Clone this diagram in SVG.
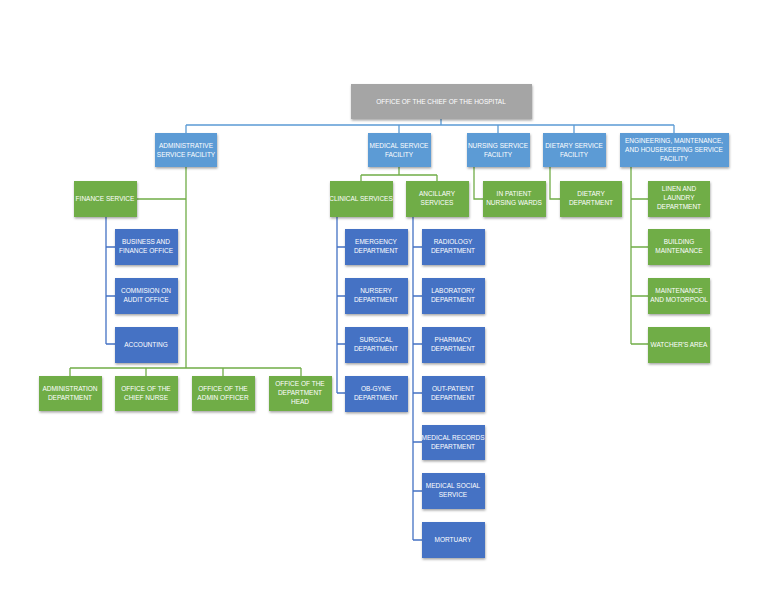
<svg xmlns="http://www.w3.org/2000/svg" width="768" height="594" viewBox="0 0 768 594">
<defs>
<filter id="sh" x="-10%" y="-10%" width="130%" height="140%"><feDropShadow dx="0.5" dy="1.5" stdDeviation="0.8" flood-opacity="0.35"/></filter>
</defs>
<style>
rect{filter:url(#sh)}
.g rect{fill:#70ad47}.b rect{fill:#4472c4}.l rect{fill:#5b9bd5}.a rect{fill:#a5a5a5}
text{font-family:"Liberation Sans",Arial,sans-serif;font-size:6.5px;fill:#fff;text-anchor:middle}
.c1{stroke:#5b9bd5;fill:none;stroke-width:1.3}.c2{stroke:#70ad47;fill:none;stroke-width:1.3}.c3{stroke:#4472c4;fill:none;stroke-width:1.3}
</style>
<rect width="768" height="594" fill="#fff" style="filter:none"/>
<g id="connectors">
<path class="c1" d="M441 119V125M186 125H674M186 125V133M399 125V133M498 125V133M574 125V133M674 125V133"/>
<path class="c2" d="M186 167V368M137 199H186M70 368H301M70 368V376M146 368V376M223 368V376M301 368V376M399 167V175M361 175H437M361 175V181M437 175V181M474 167V199H483M550 167V199H560M631 167V344M631 199H648M631 247H648M631 296H648M631 344H648"/>
<path class="c3" d="M106 217V344M106 247H115M106 296H115M106 344H115M337 217V393M337 247H345M337 296H345M337 344H345M337 393H345M413 217V540M413 247H422M413 296H422M413 344H422M413 393H422M413 442H422M413 491H422M413 540H422"/>
</g>
<g id="chief" class="a"><rect x="351" y="84" width="181" height="35"/><text x="441" y="104">OFFICE OF THE CHIEF OF THE HOSPITAL</text></g>
<g id="admin" class="l"><rect x="155" y="133" width="62" height="34"/><text x="186" y="148">ADMINISTRATIVE</text><text x="186" y="157">SERVICE FACILITY</text></g>
<g id="medical" class="l"><rect x="368" y="133" width="63" height="34"/><text x="399" y="148">MEDICAL SERVICE</text><text x="399" y="157">FACILITY</text></g>
<g id="nursing" class="l"><rect x="467" y="133" width="63" height="34"/><text x="498" y="148">NURSING SERVICE</text><text x="498" y="157">FACILITY</text></g>
<g id="dietary" class="l"><rect x="543" y="133" width="63" height="34"/><text x="574" y="148">DIETARY SERVICE</text><text x="574" y="157">FACILITY</text></g>
<g id="engineering" class="l"><rect x="620" y="133" width="109" height="34"/><text x="674" y="143">ENGINEERING, MAINTENANCE,</text><text x="674" y="152">AND HOUSEKEEPING SERVICE</text><text x="674" y="161">FACILITY</text></g>
<g id="finance" class="g"><rect x="74" y="181" width="63" height="36"/><text x="105" y="201">FINANCE SERVICE</text></g>
<g id="clinical" class="g"><rect x="330" y="181" width="63" height="36"/><text x="361" y="201">CLINICAL SERVICES</text></g>
<g id="ancillary" class="g"><rect x="406" y="181" width="63" height="36"/><text x="437" y="196">ANCILLARY</text><text x="437" y="205">SERVICES</text></g>
<g id="inpatient" class="g"><rect x="483" y="181" width="63" height="36"/><text x="514" y="196">IN PATIENT</text><text x="514" y="205">NURSING WARDS</text></g>
<g id="dietarydept" class="g"><rect x="560" y="181" width="62" height="36"/><text x="591" y="196">DIETARY</text><text x="591" y="205">DEPARTMENT</text></g>
<g id="linen" class="g"><rect x="648" y="181" width="62" height="36"/><text x="679" y="191">LINEN AND</text><text x="679" y="200">LAUNDRY</text><text x="679" y="209">DEPARTMENT</text></g>
<g id="building" class="g"><rect x="648" y="229" width="62" height="36"/><text x="679" y="244">BUILDING</text><text x="679" y="253">MAINTENANCE</text></g>
<g id="motorpool" class="g"><rect x="648" y="278" width="62" height="36"/><text x="679" y="293">MAINTENANCE</text><text x="679" y="302">AND MOTORPOOL</text></g>
<g id="watchers" class="g"><rect x="648" y="327" width="62" height="36"/><text x="679" y="347">WATCHER'S AREA</text></g>
<g id="business" class="b"><rect x="115" y="229" width="63" height="36"/><text x="146" y="244">BUSINESS AND</text><text x="146" y="253">FINANCE OFFICE</text></g>
<g id="audit" class="b"><rect x="115" y="278" width="63" height="36"/><text x="146" y="293">COMMISION ON</text><text x="146" y="302">AUDIT OFFICE</text></g>
<g id="accounting" class="b"><rect x="115" y="327" width="63" height="36"/><text x="146" y="347">ACCOUNTING</text></g>
<g id="admdept" class="g"><rect x="39" y="376" width="63" height="35"/><text x="70" y="391">ADMINISTRATION</text><text x="70" y="400">DEPARTMENT</text></g>
<g id="chiefnurse" class="g"><rect x="115" y="376" width="63" height="35"/><text x="146" y="391">OFFICE OF THE</text><text x="146" y="400">CHIEF NURSE</text></g>
<g id="adminofficer" class="g"><rect x="192" y="376" width="63" height="35"/><text x="223" y="391">OFFICE OF THE</text><text x="223" y="400">ADMIN OFFICER</text></g>
<g id="depthead" class="g"><rect x="269" y="376" width="63" height="35"/><text x="300" y="386">OFFICE OF THE</text><text x="300" y="395">DEPARTMENT</text><text x="300" y="404">HEAD</text></g>
<g id="emergency" class="b"><rect x="345" y="229" width="63" height="36"/><text x="376" y="244">EMERGENCY</text><text x="376" y="253">DEPARTMENT</text></g>
<g id="nursery" class="b"><rect x="345" y="278" width="63" height="36"/><text x="376" y="293">NURSERY</text><text x="376" y="302">DEPARTMENT</text></g>
<g id="surgical" class="b"><rect x="345" y="327" width="63" height="36"/><text x="376" y="342">SURGICAL</text><text x="376" y="351">DEPARTMENT</text></g>
<g id="obgyne" class="b"><rect x="345" y="376" width="63" height="36"/><text x="376" y="391">OB-GYNE</text><text x="376" y="400">DEPARTMENT</text></g>
<g id="radiology" class="b"><rect x="422" y="229" width="63" height="36"/><text x="453" y="244">RADIOLOGY</text><text x="453" y="253">DEPARTMENT</text></g>
<g id="laboratory" class="b"><rect x="422" y="278" width="63" height="36"/><text x="453" y="293">LABORATORY</text><text x="453" y="302">DEPARTMENT</text></g>
<g id="pharmacy" class="b"><rect x="422" y="327" width="63" height="36"/><text x="453" y="342">PHARMACY</text><text x="453" y="351">DEPARTMENT</text></g>
<g id="outpatient" class="b"><rect x="422" y="376" width="63" height="36"/><text x="453" y="391">OUT-PATIENT</text><text x="453" y="400">DEPARTMENT</text></g>
<g id="records" class="b"><rect x="422" y="425" width="63" height="35"/><text x="453" y="440">MEDICAL RECORDS</text><text x="453" y="449">DEPARTMENT</text></g>
<g id="social" class="b"><rect x="422" y="473" width="63" height="36"/><text x="453" y="488">MEDICAL SOCIAL</text><text x="453" y="497">SERVICE</text></g>
<g id="mortuary" class="b"><rect x="422" y="522" width="63" height="36"/><text x="453" y="542">MORTUARY</text></g>
</svg>
